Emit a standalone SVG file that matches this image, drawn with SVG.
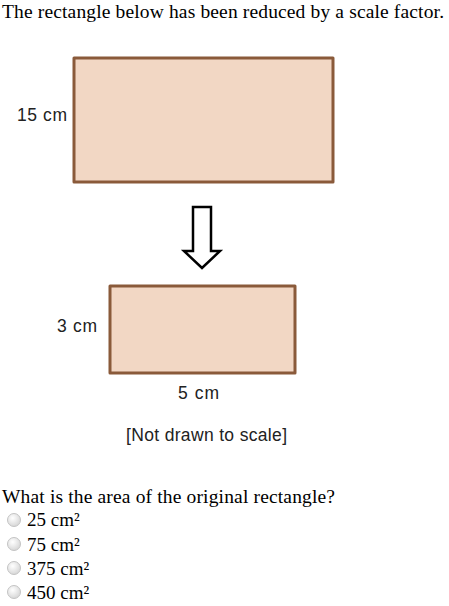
<svg xmlns="http://www.w3.org/2000/svg" width="449" height="606" viewBox="0 0 449 606">
<defs>
<radialGradient id="rg" cx="0.4" cy="0.35" r="0.7">
<stop offset="0" stop-color="#ffffff"/>
<stop offset="1" stop-color="#d4d4d4"/>
</radialGradient>
</defs>
<style>
.serif{font-family:"Liberation Serif","Times New Roman",serif;fill:#000;font-size:19.5px}
.opt{font-family:"Liberation Serif","Times New Roman",serif;fill:#000;font-size:19px}
.sans{font-family:"Liberation Sans",Arial,sans-serif;fill:#222;font-size:17.5px}
.box{fill:#F2D7C4;stroke:#8A5A3A;stroke-width:3;stroke-linejoin:round}
.radio{fill:url(#rg);stroke:#c4c4c4;stroke-width:1}
</style>
<rect width="449" height="606" fill="#fff"/>
<text class="serif" x="2" y="17.5" textLength="442">The rectangle below has been reduced by a scale factor.</text>
<g id="original">
<rect class="box" x="74" y="58" width="259" height="124"/>
<text class="sans" x="17" y="121" textLength="50">15 cm</text>
</g>
<g id="connectors">
<path d="M193,207 H211 V251 H220 L202,268 L184,251 H193 Z" fill="#fff" stroke="#000" stroke-width="2.5" stroke-linejoin="miter"/>
</g>
<g id="reduced">
<rect class="box" x="110" y="286" width="185" height="87"/>
<text class="sans" x="57" y="332" textLength="40">3 cm</text>
<text class="sans" x="178" y="399" textLength="41">5 cm</text>
</g>
<text class="sans" x="126" y="441" textLength="161">[Not drawn to scale]</text>
<text class="serif" x="2" y="503" textLength="333">What is the area of the original rectangle?</text>
<g id="options">
<circle class="radio" cx="14" cy="520" r="6.5"/>
<text class="opt" x="27" y="526">25 cm²</text>
<circle class="radio" cx="14" cy="544" r="6.5"/>
<text class="opt" x="27" y="551">75 cm²</text>
<circle class="radio" cx="14" cy="568" r="6.5"/>
<text class="opt" x="27" y="575">375 cm²</text>
<circle class="radio" cx="14" cy="592" r="6.5"/>
<text class="opt" x="27" y="599">450 cm²</text>
</g>
</svg>
